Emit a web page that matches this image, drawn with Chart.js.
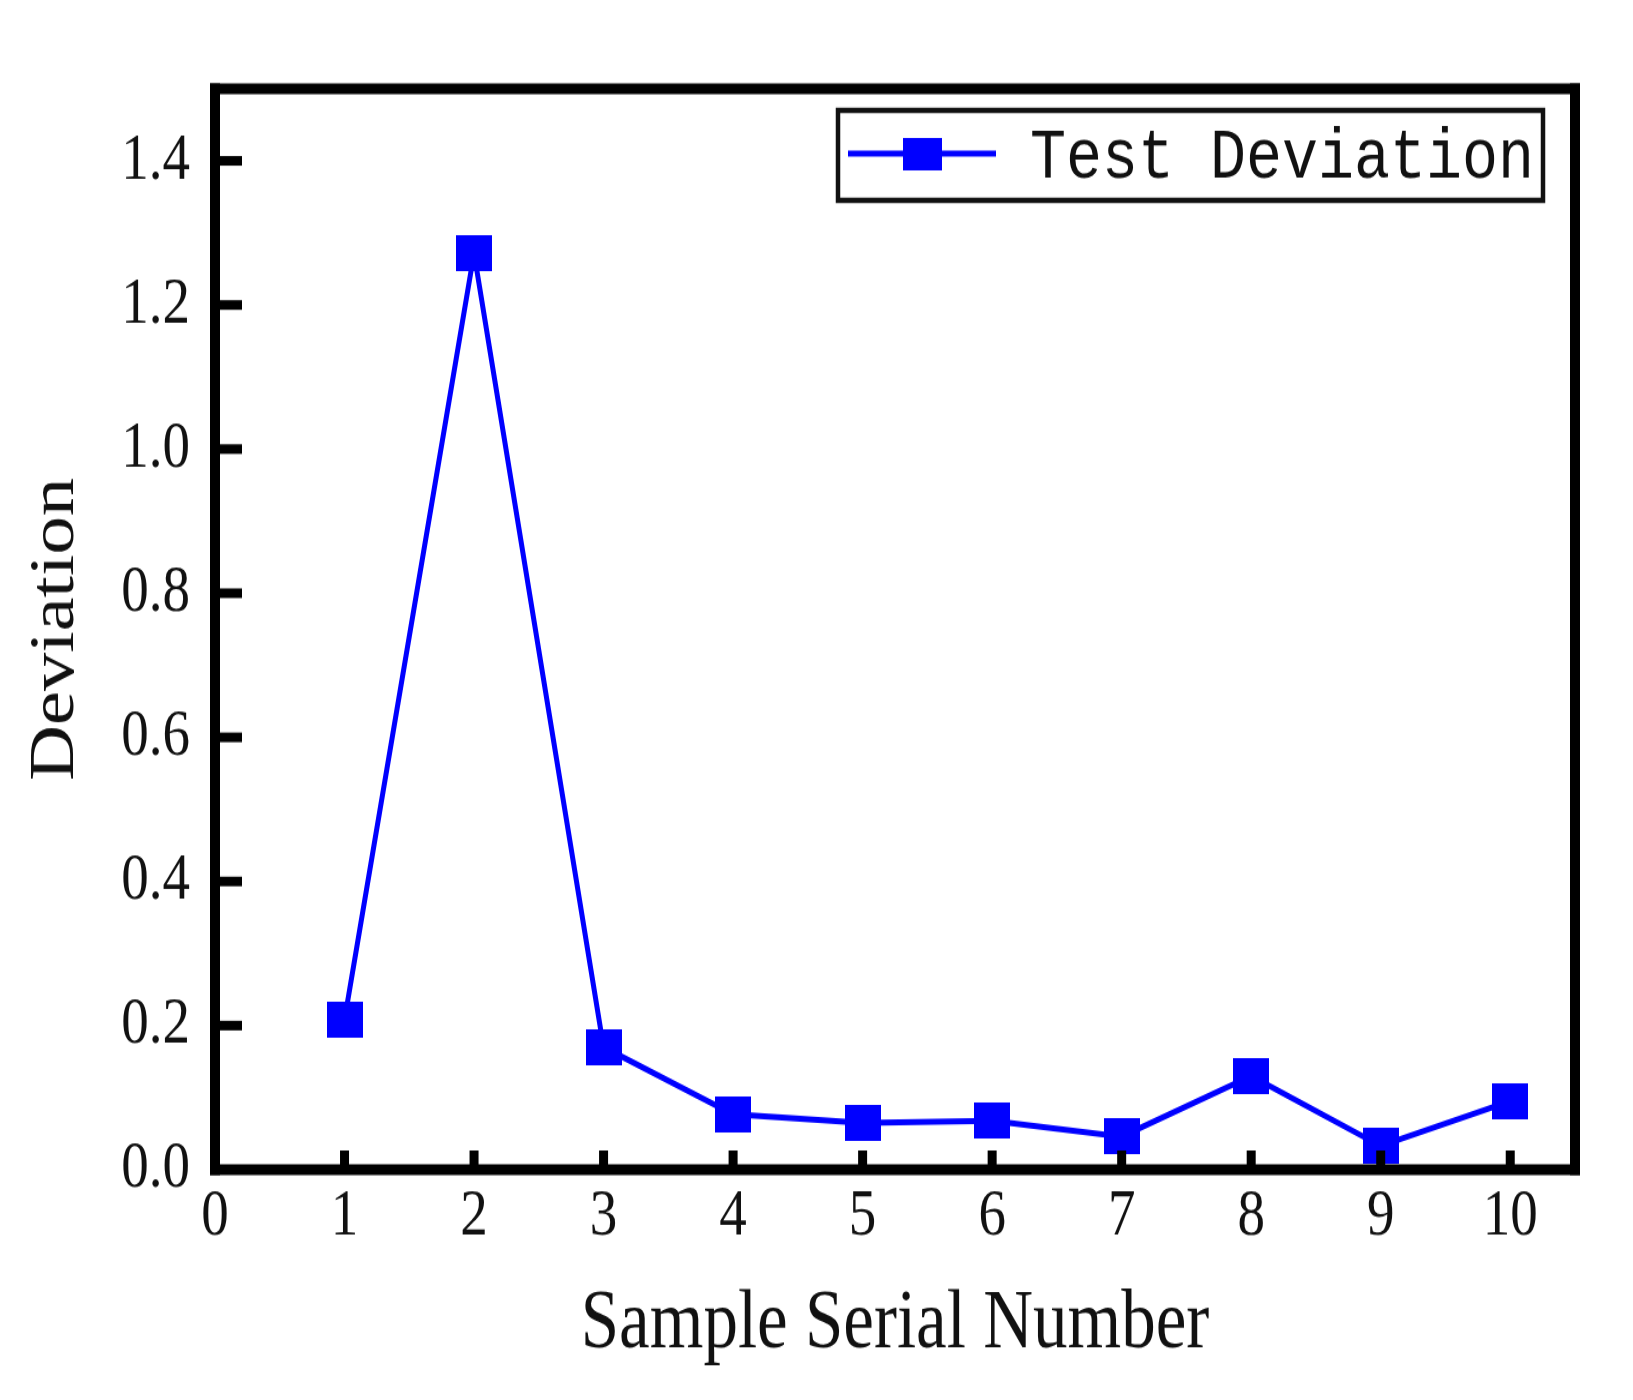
<!DOCTYPE html>
<html><head><meta charset="utf-8">
<script src="https://cdn.jsdelivr.net/npm/chart.js@4.4.1/dist/chart.umd.min.js"></script>
<style>
html,body{margin:0;padding:0;background:#fff;overflow:hidden;}
#wrap{position:absolute;left:0;top:0;width:1633px;height:1167px;transform:scaleY(1.19966);transform-origin:0 0;}
canvas{display:block}
</style></head><body>
<div id="wrap"><canvas id="c"></canvas></div>
<script>
const sampleIds = [1, 2, 3, 4, 5, 6, 7, 8, 9, 10];
const deviation = [0.208, 1.272, 0.170, 0.077, 0.065, 0.068, 0.046, 0.130, 0.033, 0.095];
const xTickValues = [0, 1, 2, 3, 4, 5, 6, 7, 8, 9, 10];
const yTickValues = [0, 0.2, 0.4, 0.6, 0.8, 1.0, 1.2, 1.4];
const seriesLabel = 'Test Deviation';
const xTitle = 'Sample Serial Number';
const yTitle = 'Deviation';

const BLUE = '#0000ff';
const INK = '#111';
const SERIF = "'Liberation Serif', 'Times New Roman', serif";
const MONO = "'Liberation Mono', 'DejaVu Sans Mono', monospace";

function makeMarker(w, h) {
  const c = document.createElement('canvas');
  c.width = w; c.height = h;
  const g = c.getContext('2d');
  g.fillStyle = BLUE;
  g.fillRect(0, 0, w, h);
  return c;
}
const pointMarker = makeMarker(36, 30);
const legendMarker = makeMarker(39, 27);

const framePlugin = {
  id: 'frame',
  afterDatasetsDraw(chart) {
    const {ctx, chartArea: a, scales} = chart;
    ctx.save();
    ctx.fillStyle = '#000';
    // inward tick marks
    xTickValues.forEach(v => {
      const px = scales.x.getPixelForValue(v);
      ctx.fillRect(px - 4.5, a.bottom - 16, 9, 16);
    });
    yTickValues.forEach(v => {
      const py = scales.y.getPixelForValue(v);
      ctx.fillRect(a.left, py - 4, 27, 8);
    });
    // frame
    ctx.strokeStyle = '#000';
    ctx.lineWidth = 10;
    ctx.beginPath();
    ctx.moveTo(a.left, a.top - 4.5); ctx.lineTo(a.left, a.bottom + 4.5);
    ctx.moveTo(a.right, a.top - 4.5); ctx.lineTo(a.right, a.bottom + 4.5);
    ctx.stroke();
    ctx.lineWidth = 9;
    ctx.beginPath();
    ctx.moveTo(a.left - 5, a.top); ctx.lineTo(a.right + 5, a.top);
    ctx.moveTo(a.left - 5, a.bottom); ctx.lineTo(a.right + 5, a.bottom);
    ctx.stroke();
    // legend
    ctx.lineWidth = 4.5;
    ctx.strokeStyle = '#111';
    ctx.fillStyle = '#fff';
    ctx.fillRect(838, 92, 705, 75);
    ctx.strokeRect(838, 92, 705, 75);
    ctx.strokeStyle = BLUE;
    ctx.lineWidth = 5;
    ctx.beginPath();
    ctx.moveTo(848, 128); ctx.lineTo(996, 128);
    ctx.stroke();
    ctx.drawImage(legendMarker, 922 - legendMarker.width / 2, 128 - legendMarker.height / 2);
    ctx.fillStyle = INK;
    ctx.font = '60px ' + MONO;
    ctx.textBaseline = 'alphabetic';
    ctx.textAlign = 'left';
    ctx.fillText(chart.data.datasets[0].label, 1030, 148);
    ctx.restore();
  }
};

new Chart(document.getElementById('c'), {
  type: 'line',
  data: {
    datasets: [{
      label: seriesLabel,
      data: sampleIds.map((x, i) => ({x: x, y: deviation[i]})),
      borderColor: BLUE,
      backgroundColor: BLUE,
      borderWidth: 5,
      pointStyle: pointMarker,
      pointRadius: 18,
      tension: 0,
      fill: false
    }]
  },
  options: {
    responsive: true,
    maintainAspectRatio: false,
    animation: false,
    devicePixelRatio: 1,
    layout: {padding: {top: 74, right: 58, left: 0, bottom: 0}},
    plugins: {legend: {display: false}, tooltip: {enabled: false}},
    scales: {
      x: {
        type: 'linear',
        min: 0, max: 10.5,
        afterBuildTicks: s => { s.ticks = xTickValues.map(v => ({value: v})); },
        afterFit: s => { s.height = 192; },
        grid: {display: false, drawTicks: false, tickLength: 0},
        border: {display: false},
        ticks: {
          autoSkip: false, maxRotation: 0, padding: 7, color: INK,
          font: {family: SERIF, size: 55},
          callback: v => String(v)
        },
        title: {display: true, text: xTitle, color: INK,
          font: {family: SERIF, size: 69}, padding: {top: 0, bottom: 21}}
      },
      y: {
        type: 'linear',
        min: 0, max: 1.5,
        afterBuildTicks: s => { s.ticks = yTickValues.map(v => ({value: v})); },
        afterFit: s => { s.width = 215; },
        grid: {display: false, drawTicks: false, tickLength: 0},
        border: {display: false},
        ticks: {
          padding: 25, color: INK,
          font: {family: SERIF, size: 55},
          callback: v => Number(v).toFixed(1)
        },
        title: {display: true, text: yTitle, color: INK,
          font: {family: SERIF, size: 64}, padding: {top: 18, bottom: 0}}
      }
    }
  },
  plugins: [framePlugin]
});
</script>
</body></html>
